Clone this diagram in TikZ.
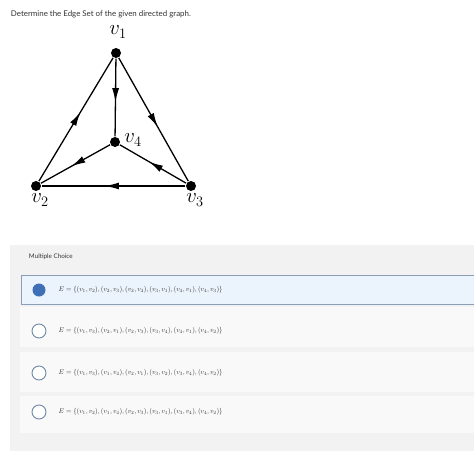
\documentclass[tikz,border=0pt]{standalone}
\usepackage{fontspec}
\setsansfont{Lato}
\usetikzlibrary{arrows.meta,decorations.markings}

\definecolor{panelgray}{HTML}{F2F2F2}
\definecolor{rowgray}{HTML}{F9F9F9}
\definecolor{pickfill}{HTML}{EBF3FC}
\definecolor{pickline}{HTML}{8C9DB8}
\definecolor{pickdot}{HTML}{3F6FB6}
\definecolor{ringline}{HTML}{6F86A6}
\definecolor{inkgray}{HTML}{333333}

\newcommand{\edgeset}[1]{\resizebox{164pt}{!}{$E = \{#1\}$}}

\tikzset{
  vertex/.style={circle,fill=black,inner sep=0pt,minimum size=10pt},
  vlabel/.style={font=\fontsize{20}{22}\selectfont},
  midarrow/.style={postaction={decorate},
    decoration={markings,mark=at position 0.56 with {\arrow{Latex[length=14pt,width=7pt]}}}},
  choice/.style={anchor=west,inner sep=0pt,text=inkgray,font=\fontsize{10}{12}\selectfont},
  ring/.style={circle,draw=ringline,line width=0.9pt,fill=white,minimum size=14pt,inner sep=0pt},
}

\begin{document}
\begin{tikzpicture}[x=1pt,y=-1pt,line width=1.3pt]
    \useasboundingbox (0,0) rectangle (474,453);
    % question text
    \node[anchor=west,text=inkgray,font=\sffamily\fontsize{7.9}{9}\selectfont] (title) at (7,14)
      {Determine the Edge Set of the given directed graph.};

    % the directed graph on four vertices
    \node[vertex] (v1) at (116,53) {};
    \node[vertex] (v2) at (36,186) {};
    \node[vertex] (v3) at (191,186) {};
    \node[vertex] (v4) at (115,142) {};
    \node[vlabel] (l1) at (118,32) {$v_1$};
    \node[vlabel] (l2) at (40,200) {$v_2$};
    \node[vlabel] (l3) at (195,200) {$v_3$};
    \node[vlabel] (l4) at (133,140) {$v_4$};
    \draw[midarrow] (v1) -- (v4);
    \draw[midarrow] (v1) -- (v3);
    \draw[midarrow] (v2) -- (v1);
    \draw[midarrow] (v4) -- (v2);
    \draw[midarrow] (v3) -- (v4);
    \draw[midarrow] (v3) -- (v2);

    % answer panel
    \fill[panelgray] (10,245) rectangle (474,451);
    \node[anchor=west,text=inkgray,font=\sffamily\fontsize{6.3}{7}\selectfont] (mc) at (25,257) {Multiple Choice};
    \filldraw[fill=pickfill,draw=pickline,line width=0.8pt] (21,275) rectangle (476,304);
    \fill[rowgray] (20,307) rectangle (474,347);
    \fill[rowgray] (20,352) rectangle (474,392);
    \fill[rowgray] (20,396) rectangle (474,433);

    \node[circle,fill=pickdot,minimum size=13pt,inner sep=0pt] (c1) at (39,290) {};
    \node[ring] (c2) at (39,331) {};
    \node[ring] (c3) at (39,373) {};
    \node[ring] (c4) at (39,412) {};

    \node[choice] (e1) at (58,290)
      {\edgeset{(v_1, v_2), (v_2, v_3), (v_2, v_4), (v_3, v_1), (v_4, v_1), (v_4, v_3)}};
    \node[choice] (e2) at (58,331)
      {\edgeset{(v_1, v_3), (v_2, v_1), (v_2, v_3), (v_3, v_4), (v_4, v_1), (v_4, v_2)}};
    \node[choice] (e3) at (58,373)
      {\edgeset{(v_1, v_3), (v_1, v_4), (v_2, v_1), (v_3, v_2), (v_3, v_4), (v_4, v_2)}};
    \node[choice] (e4) at (58,412)
      {\edgeset{(v_1, v_2), (v_1, v_4), (v_2, v_3), (v_3, v_1), (v_3, v_4), (v_4, v_2)}};
  \end{tikzpicture}
\end{document}
